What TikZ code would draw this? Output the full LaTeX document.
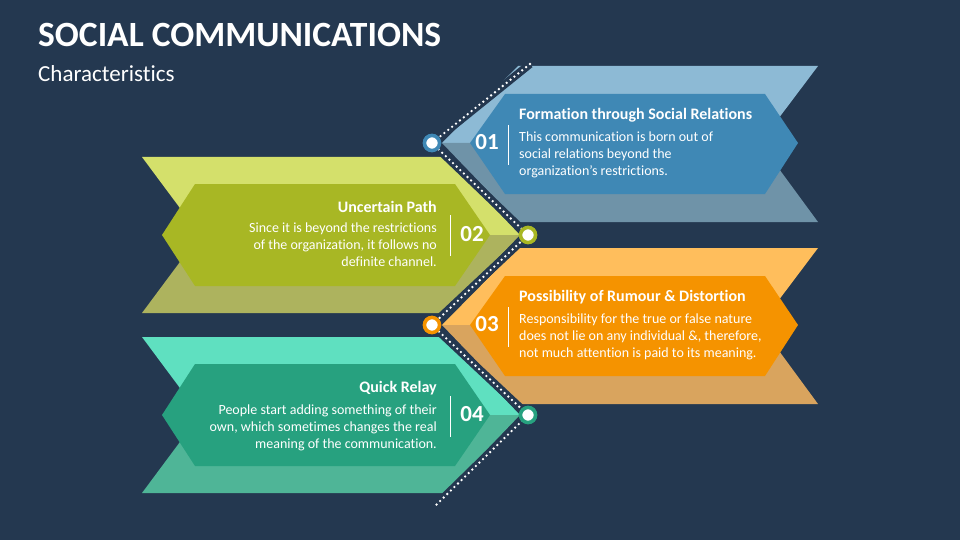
\documentclass[tikz,border=0pt]{standalone}
\usepackage{fontspec}
\setmainfont{Carlito}[Ligatures=NoCommon]
\begin{document}
\begin{tikzpicture}[x=1pt,y=-1pt,
  ttl/.style={anchor=west,text=white,font=\bfseries\fontsize{35.5}{38}\selectfont,inner sep=0},
  sub/.style={anchor=west,text=white,font=\fontsize{23}{26}\selectfont,inner sep=0},
  head/.style={text=white,font=\bfseries\fontsize{16}{18}\selectfont,inner sep=0},
  body/.style={text=white,font=\fontsize{14}{16.8}\selectfont,inner sep=0},
  num/.style={text=white,font=\bfseries\fontsize{23}{25}\selectfont,inner sep=0},
  ring/.style={circle,minimum size=15pt,inner sep=0,line width=3.5pt,fill=white}]
\definecolor{bg}{HTML}{243850}
\definecolor{bF}{HTML}{3F88B5}\definecolor{bT}{HTML}{8DBAD5}\definecolor{bB}{HTML}{6F93A8}
\definecolor{gF}{HTML}{A8B724}\definecolor{gT}{HTML}{D4E06B}\definecolor{gB}{HTML}{ADB35E}
\definecolor{oF}{HTML}{F59300}\definecolor{oT}{HTML}{FFBE5C}\definecolor{oB}{HTML}{D9A45E}
\definecolor{tF}{HTML}{27A17F}\definecolor{tT}{HTML}{5FE0C0}\definecolor{tB}{HTML}{4FB597}
\fill[bg] (0,0) rectangle (960,540);
\node[ttl] (title) at (38,35) {SOCIAL COMMUNICATIONS};
\node[sub] (subtitle) at (38,74) {Characteristics};
% right ribbons
\foreach \c/\F/\T/\B in {143/bF/bT/bB,325/oF/oT/oB}{
  \fill[\T] (442,\c) -- (518,\c-77) -- (818,\c-77) -- (760,\c) -- cycle;
  \fill[\B] (442,\c) -- (760,\c) -- (818,\c+79) -- (518,\c+79) -- cycle;
  \fill[\F] (470,\c) -- (505,\c-49) -- (765,\c-49) -- (798,\c) -- (765,\c+51) -- (505,\c+51) -- cycle;
}
% left ribbons
\foreach \c/\F/\T/\B in {235/gF/gT/gB,415/tF/tT/tB}{
  \fill[\T] (520,\c) -- (445,\c-78) -- (142,\c-78) -- (200,\c) -- cycle;
  \fill[\B] (520,\c) -- (200,\c) -- (142,\c+78) -- (445,\c+78) -- cycle;
  \fill[\F] (490,\c) -- (455,\c-51) -- (195,\c-51) -- (162,\c) -- (195,\c+51) -- (455,\c+51) -- cycle;
}
% dotted zigzag
\coordinate (z0) at (530,64);
\coordinate (z5) at (434,507);
\node[ring,draw=bF] (c1) at (432,143) {};
\node[ring,draw=gF] (c2) at (528,235) {};
\node[ring,draw=oF] (c3) at (432,325) {};
\node[ring,draw=tF] (c4) at (528,415) {};
\draw[bg,line width=8pt] (z0) -- (c1.center) -- (c2.center) -- (c3.center) -- (c4.center) -- (z5);
\draw[white,line width=2.6pt,line cap=round,dash pattern=on 0pt off 5pt] (z0) -- (c1.center) -- (c2.center) -- (c3.center) -- (c4.center) -- (z5);
\foreach \n/\col in {c1/bF,c2/gF,c3/oF,c4/tF}{\node[ring,draw=\col] at (\n) {};}
% texts 01
\node[num] (n1) at (487,142) {01};
\draw[white,line width=1pt] (508,125) -- (508,165);
\node[head,anchor=west] (h1) at (519,115) {Formation through Social Relations};
\node[body,anchor=north west,align=left] (t1) at (519,132) {This communication is born out of\\social relations beyond the\\organization’s restrictions.};
% 03
\node[num] (n3) at (487,324) {03};
\draw[white,line width=1pt] (508,307) -- (508,347);
\node[head,anchor=west] (h3) at (519,297) {Possibility of Rumour \& Distortion};
\node[body,anchor=north west,align=left] (t3) at (519,314) {Responsibility for the true or false nature\\does not lie on any individual \&, therefore,\\not much attention is paid to its meaning.};
% 02
\node[num] (n2) at (472,234) {02};
\draw[white,line width=1pt] (450,215) -- (450,256);
\node[head,anchor=east] (h2) at (437,207) {Uncertain Path};
\node[body,anchor=north east,align=right] (t2) at (437,223) {Since it is beyond the restrictions\\of the organization, it follows no\\definite channel.};
% 04
\node[num] (n4) at (472,414) {04};
\draw[white,line width=1pt] (450,396) -- (450,437);
\node[head,anchor=east] (h4) at (437,388) {Quick Relay};
\node[body,anchor=north east,align=right] (t4) at (437,405) {People start adding something of their\\own, which sometimes changes the real\\meaning of the communication.};
\end{tikzpicture}
\end{document}
